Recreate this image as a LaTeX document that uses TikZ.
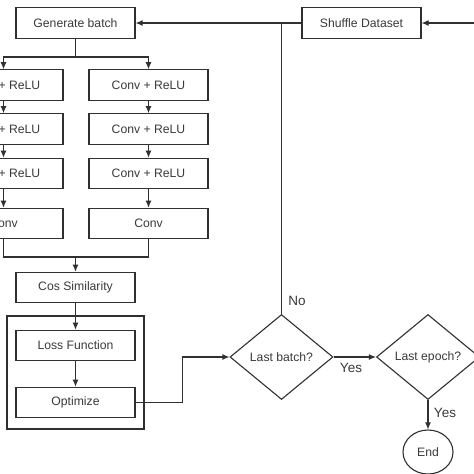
\documentclass[tikz,border=0pt]{standalone}
\usepackage{fontspec}
\setmainfont{Liberation Sans}
\usetikzlibrary{shapes.geometric,arrows.meta}
\definecolor{ln}{HTML}{303030}
\definecolor{tx}{HTML}{3A3A3A}
\tikzset{
  box/.style={draw=ln,line width=1.1pt,minimum width=119pt,minimum height=30.5pt,inner sep=0pt,text=tx,font=\fontsize{12.2}{14}\selectfont},
  dia/.style={draw=ln,line width=1.1pt,shape=diamond,minimum width=103pt,minimum height=85pt,inner sep=0pt,text=tx,font=\fontsize{12.2}{14}\selectfont},
  term/.style={draw=ln,line width=1.1pt,shape=ellipse,minimum width=50pt,minimum height=44pt,inner sep=0pt,text=tx,font=\fontsize{12.2}{14}\selectfont},
  conn/.style={draw=ln,line width=1.1pt},
  arr/.style={conn,-{Latex[length=7pt,width=6pt]}},
  lab/.style={text=tx,font=\fontsize{13.5}{15}\selectfont,inner sep=0pt}
}
\begin{document}
\begin{tikzpicture}[x=1pt,y=-1pt]
\useasboundingbox (0,0) rectangle (474,474);
\clip (0,0) rectangle (474,474);
\fill[white] (0,0) rectangle (474,474);
\node[box] (gen) at (75.5,23) {Generate batch};
\node[box] (shuf) at (361.5,23) {Shuffle Dataset};
\node[box] (l1) at (3.5,85) {Conv + ReLU};
\node[box] (r1) at (148.5,85) {Conv + ReLU};
\node[box] (l2) at (3.5,129) {Conv + ReLU};
\node[box] (r2) at (148.5,129) {Conv + ReLU};
\node[box] (l3) at (3.5,173.5) {Conv + ReLU};
\node[box] (r3) at (148.5,173.5) {Conv + ReLU};
\node[box] (l4) at (3.5,223.5) {Conv};
\node[box] (r4) at (148.5,223.5) {Conv};
\node[box] (cos) at (75.5,287.5) {Cos Similarity};
\node[draw=ln,line width=1.1pt,minimum width=137pt,minimum height=113pt,inner sep=0pt] (grp) at (75.5,372.5) {};
\node[box] (loss) at (75.5,345.5) {Loss Function};
\node[box] (opt) at (75.5,402.5) {Optimize};
\node[dia] (lb) at (281.5,357) {Last batch?};
\node[dia] (le) at (428,357) {Last epoch?};
\node[term] (end) at (428,452) {End};
\coordinate (split) at (75.5,57);
\coordinate (merge) at (75.5,257);
\coordinate (inR) at (480,23);
\draw[conn] (gen.south) -- (split);
\draw[arr] (split) -| (l1.north);
\draw[arr] (split) -| (r1.north);
\draw[arr] (l1) -- (l2);
\draw[arr] (l2) -- (l3);
\draw[arr] (l3) -- (l4);
\draw[arr] (r1) -- (r2);
\draw[arr] (r2) -- (r3);
\draw[arr] (r3) -- (r4);
\draw[conn] (l4.south) |- (merge);
\draw[conn] (r4.south) |- (merge);
\draw[arr] (merge) -- (cos.north);
\draw[arr] (cos.south) -- (loss.north);
\draw[arr] (loss) -- (opt);
\draw[arr] (opt.east) -- ++(46.5,0) |- (lb.west);
\draw[arr] (lb.east) -- (le.west);
\draw[arr] (le.south) -- (end.north);
\draw[arr] (lb.north) |- (gen.east);
\draw[conn] (shuf.west) -- (lb.north |- shuf.west);
\draw[arr] (inR) -- (shuf.east);
\node[lab] (no) at (297,301) {No};
\node[lab] (yes1) at (351,368) {Yes};
\node[lab] (yes2) at (445,413) {Yes};
\end{tikzpicture}
\end{document}
